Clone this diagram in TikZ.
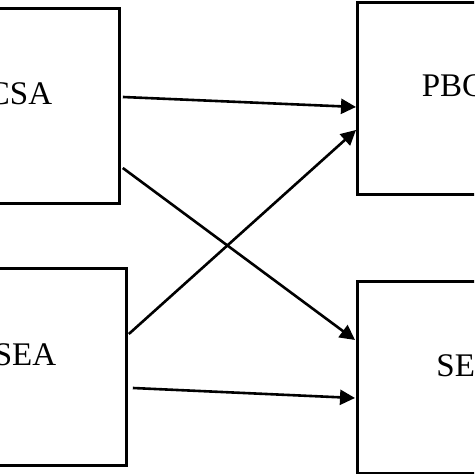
\documentclass[tikz,border=0pt]{standalone}
\usepackage{fontspec}
\setmainfont{Liberation Serif}
\usetikzlibrary{positioning, calc, arrows.meta}

\begin{document}
\begin{tikzpicture}[x=0.5pt, y=0.5pt,
		varbox/.style = {draw, line width=1.4pt, inner sep=0pt, anchor=north west},
		varname/.style = {font=\fontsize{16.5pt}{19pt}\selectfont},
		link/.style = {line width=1.3pt, -{Triangle[length=7.5pt, width=7.5pt]}}]
	\clip (0,0) rectangle (474,474);
	% the four boxes
	\node[varbox, minimum width=95pt, minimum height=97.5pt] (csa) at (-72,467) {};
	\node[varbox, minimum width=94pt, minimum height=96pt] (pbc) at (356,473) {};
	\node[varbox, minimum width=97pt, minimum height=98.5pt] (sea) at (-69,207) {};
	\node[varbox, minimum width=97.5pt, minimum height=96pt] (se) at (356,194) {};
	% their names
	\node[varname, anchor=base] (csa-name) at (20,369) {CSA};
	\node[varname, anchor=base] (pbc-name) at (453,377) {PBC};
	\node[varname, anchor=base] (sea-name) at (25,108) {SEA};
	\node[varname, anchor=base west, inner sep=0pt] (se-name) at (436,97) {SE};
	% paths
	\draw[link] ($(csa.north east)+(2,-90)$) -- ($(pbc.north west)+(0,-106)$);
	\draw[link] ($(csa.north east)+(2,-161)$) -- ($(se.north west)+(-1,-60)$);
	\draw[link] ($(sea.north east)+(1,-67)$) -- ($(pbc.north west)+(0,-129)$);
	\draw[link] ($(sea.north east)+(5,-121)$) -- ($(se.north west)+(-1,-118)$);
\end{tikzpicture}
\end{document}
